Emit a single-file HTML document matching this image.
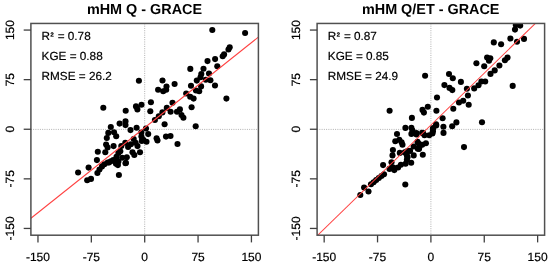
<!DOCTYPE html>
<html><head><meta charset="utf-8"><title>mHM vs GRACE</title>
<style>
html,body{margin:0;padding:0;background:#fff;}
svg{display:block;}
text{font-family:"Liberation Sans",Arial,sans-serif;fill:#000;text-rendering:geometricPrecision;stroke:#000;stroke-width:0.2px;stroke-linejoin:round;}
.ax{font-size:12px;}
.st{font-size:11.75px;}
.ti{font-size:14.4px;font-weight:bold;stroke:none;}
.box{fill:none;stroke:#505050;stroke-width:1.5;}
.tk{stroke:#404040;stroke-width:1.3;}
.red{stroke:#ff4040;stroke-width:1.05;}
.dot{stroke:#b0b0b0;stroke-width:1;stroke-dasharray:1 1.25;}
</style></head>
<body>
<svg width="550" height="267" viewBox="0 0 550 267">
<rect width="550" height="267" fill="#fff"/>
<line x1="30.9" y1="129.4" x2="258.4" y2="129.4" class="dot"/>
<line x1="144.7" y1="23.45" x2="144.7" y2="235.2" class="dot"/>
<clipPath id="c0"><rect x="30.9" y="23.45" width="227.49999999999997" height="211.75"/></clipPath>
<g fill="#000" clip-path="url(#c0)">
<circle cx="212.3" cy="30.0" r="3.05"/>
<circle cx="245.1" cy="33.0" r="3.05"/>
<circle cx="229.7" cy="47.2" r="3.05"/>
<circle cx="228.5" cy="49.5" r="3.05"/>
<circle cx="224.1" cy="54.4" r="3.05"/>
<circle cx="222.7" cy="56.2" r="3.05"/>
<circle cx="215.1" cy="59.1" r="3.05"/>
<circle cx="207.5" cy="61.1" r="3.05"/>
<circle cx="217.3" cy="66.2" r="3.05"/>
<circle cx="190.3" cy="68.9" r="3.05"/>
<circle cx="203.5" cy="68.7" r="3.05"/>
<circle cx="201.3" cy="74.0" r="3.05"/>
<circle cx="209.0" cy="73.5" r="3.05"/>
<circle cx="200.5" cy="77.3" r="3.05"/>
<circle cx="196.8" cy="80.6" r="3.05"/>
<circle cx="205.8" cy="79.8" r="3.05"/>
<circle cx="210.4" cy="80.2" r="3.05"/>
<circle cx="191.0" cy="85.7" r="3.05"/>
<circle cx="201.1" cy="86.4" r="3.05"/>
<circle cx="215.0" cy="85.5" r="3.05"/>
<circle cx="138.9" cy="80.8" r="3.05"/>
<circle cx="162.5" cy="80.5" r="3.05"/>
<circle cx="174.6" cy="84.0" r="3.05"/>
<circle cx="166.5" cy="86.6" r="3.05"/>
<circle cx="158.1" cy="89.7" r="3.05"/>
<circle cx="163.2" cy="91.2" r="3.05"/>
<circle cx="166.2" cy="89.8" r="3.05"/>
<circle cx="196.0" cy="90.5" r="3.05"/>
<circle cx="199.2" cy="91.2" r="3.05"/>
<circle cx="186.2" cy="93.5" r="3.05"/>
<circle cx="190.2" cy="96.8" r="3.05"/>
<circle cx="193.6" cy="98.6" r="3.05"/>
<circle cx="226.4" cy="98.6" r="3.05"/>
<circle cx="172.5" cy="102.8" r="3.05"/>
<circle cx="191.6" cy="107.3" r="3.05"/>
<circle cx="170.6" cy="111.7" r="3.05"/>
<circle cx="177.0" cy="111.7" r="3.05"/>
<circle cx="179.9" cy="109.4" r="3.05"/>
<circle cx="181.5" cy="115.0" r="3.05"/>
<circle cx="183.4" cy="117.8" r="3.05"/>
<circle cx="103.3" cy="107.8" r="3.05"/>
<circle cx="125.7" cy="110.7" r="3.05"/>
<circle cx="136.0" cy="106.4" r="3.05"/>
<circle cx="141.5" cy="104.8" r="3.05"/>
<circle cx="137.4" cy="109.4" r="3.05"/>
<circle cx="150.9" cy="102.2" r="3.05"/>
<circle cx="150.3" cy="111.2" r="3.05"/>
<circle cx="166.8" cy="107.9" r="3.05"/>
<circle cx="162.4" cy="112.4" r="3.05"/>
<circle cx="158.8" cy="116.3" r="3.05"/>
<circle cx="154.9" cy="120.0" r="3.05"/>
<circle cx="164.6" cy="124.2" r="3.05"/>
<circle cx="195.7" cy="126.2" r="3.05"/>
<circle cx="119.6" cy="123.6" r="3.05"/>
<circle cx="125.5" cy="121.4" r="3.05"/>
<circle cx="125.5" cy="125.1" r="3.05"/>
<circle cx="110.8" cy="127.0" r="3.05"/>
<circle cx="130.5" cy="130.1" r="3.05"/>
<circle cx="136.6" cy="127.7" r="3.05"/>
<circle cx="146.0" cy="128.5" r="3.05"/>
<circle cx="141.3" cy="132.5" r="3.05"/>
<circle cx="148.2" cy="134.1" r="3.05"/>
<circle cx="108.3" cy="132.9" r="3.05"/>
<circle cx="114.0" cy="132.3" r="3.05"/>
<circle cx="116.2" cy="136.3" r="3.05"/>
<circle cx="106.8" cy="138.0" r="3.05"/>
<circle cx="141.4" cy="136.6" r="3.05"/>
<circle cx="143.3" cy="139.8" r="3.05"/>
<circle cx="146.5" cy="141.7" r="3.05"/>
<circle cx="156.6" cy="138.2" r="3.05"/>
<circle cx="157.5" cy="140.5" r="3.05"/>
<circle cx="166.0" cy="136.6" r="3.05"/>
<circle cx="170.5" cy="136.0" r="3.05"/>
<circle cx="177.5" cy="144.0" r="3.05"/>
<circle cx="106.1" cy="144.5" r="3.05"/>
<circle cx="113.6" cy="146.1" r="3.05"/>
<circle cx="121.3" cy="146.1" r="3.05"/>
<circle cx="125.3" cy="142.8" r="3.05"/>
<circle cx="133.7" cy="139.0" r="3.05"/>
<circle cx="135.6" cy="142.8" r="3.05"/>
<circle cx="137.5" cy="146.1" r="3.05"/>
<circle cx="130.9" cy="144.2" r="3.05"/>
<circle cx="128.1" cy="147.0" r="3.05"/>
<circle cx="107.6" cy="147.5" r="3.05"/>
<circle cx="97.8" cy="151.7" r="3.05"/>
<circle cx="105.3" cy="152.2" r="3.05"/>
<circle cx="96.9" cy="160.1" r="3.05"/>
<circle cx="141.8" cy="140.9" r="3.05"/>
<circle cx="132.5" cy="152.2" r="3.05"/>
<circle cx="134.3" cy="155.0" r="3.05"/>
<circle cx="140.0" cy="152.2" r="3.05"/>
<circle cx="118.4" cy="153.1" r="3.05"/>
<circle cx="120.3" cy="151.2" r="3.05"/>
<circle cx="116.5" cy="156.9" r="3.05"/>
<circle cx="122.2" cy="157.8" r="3.05"/>
<circle cx="126.8" cy="157.3" r="3.05"/>
<circle cx="113.3" cy="160.1" r="3.05"/>
<circle cx="118.4" cy="161.5" r="3.05"/>
<circle cx="109.0" cy="162.5" r="3.05"/>
<circle cx="125.9" cy="162.9" r="3.05"/>
<circle cx="104.4" cy="164.3" r="3.05"/>
<circle cx="88.6" cy="167.6" r="3.05"/>
<circle cx="78.1" cy="172.5" r="3.05"/>
<circle cx="97.4" cy="173.0" r="3.05"/>
<circle cx="99.5" cy="169.5" r="3.05"/>
<circle cx="102.0" cy="166.4" r="3.05"/>
<circle cx="107.7" cy="162.5" r="3.05"/>
<circle cx="110.9" cy="161.3" r="3.05"/>
<circle cx="116.0" cy="163.8" r="3.05"/>
<circle cx="117.9" cy="165.1" r="3.05"/>
<circle cx="125.5" cy="163.2" r="3.05"/>
<circle cx="118.9" cy="175.0" r="3.05"/>
<circle cx="87.2" cy="180.2" r="3.05"/>
<circle cx="91.0" cy="178.9" r="3.05"/>
</g>
<line x1="10.90" y1="234.23" x2="278.50" y2="21.07" class="red" clip-path="url(#c0)"/>
<rect x="30.9" y="23.45" width="227.49999999999997" height="211.75" class="box"/>
<line x1="37.97" y1="235.2" x2="37.97" y2="242.39999999999998" class="tk"/>
<text x="37.97" y="261" class="ax" text-anchor="middle">-150</text>
<line x1="30.9" y1="228.44" x2="23.7" y2="228.44" class="tk"/>
<text transform="translate(14.30,228.44) rotate(-90)" class="ax" text-anchor="middle">-150</text>
<line x1="91.34" y1="235.2" x2="91.34" y2="242.39999999999998" class="tk"/>
<text x="91.34" y="261" class="ax" text-anchor="middle">-75</text>
<line x1="30.9" y1="178.85" x2="23.7" y2="178.85" class="tk"/>
<text transform="translate(14.30,178.85) rotate(-90)" class="ax" text-anchor="middle">-75</text>
<line x1="144.70" y1="235.2" x2="144.70" y2="242.39999999999998" class="tk"/>
<text x="144.70" y="261" class="ax" text-anchor="middle">0</text>
<line x1="30.9" y1="129.25" x2="23.7" y2="129.25" class="tk"/>
<text transform="translate(14.30,129.25) rotate(-90)" class="ax" text-anchor="middle">0</text>
<line x1="198.06" y1="235.2" x2="198.06" y2="242.39999999999998" class="tk"/>
<text x="198.06" y="261" class="ax" text-anchor="middle">75</text>
<line x1="30.9" y1="79.65" x2="23.7" y2="79.65" class="tk"/>
<text transform="translate(14.30,79.65) rotate(-90)" class="ax" text-anchor="middle">75</text>
<line x1="251.43" y1="235.2" x2="251.43" y2="242.39999999999998" class="tk"/>
<text x="251.43" y="261" class="ax" text-anchor="middle">150</text>
<line x1="30.9" y1="30.06" x2="23.7" y2="30.06" class="tk"/>
<text transform="translate(14.30,30.06) rotate(-90)" class="ax" text-anchor="middle">150</text>
<text x="144.5" y="13.9" class="ti" text-anchor="middle">mHM Q - GRACE</text>
<text x="41.6" y="40.00" class="st">R<tspan dx="0.4" dy="-1.5" style="font-size:9.4px;stroke-width:0.35px">²</tspan><tspan dx="0.8" dy="1.5"> = 0.78</tspan></text>
<text x="41.6" y="59.85" class="st">KGE = 0.88</text>
<text x="41.6" y="79.70" class="st">RMSE = 26.2</text>
<line x1="317.09999999999997" y1="129.4" x2="544.5999999999999" y2="129.4" class="dot"/>
<line x1="430.9" y1="23.45" x2="430.9" y2="235.2" class="dot"/>
<clipPath id="c286"><rect x="317.09999999999997" y="23.45" width="227.49999999999997" height="211.75"/></clipPath>
<g fill="#000" clip-path="url(#c286)">
<circle cx="515.8" cy="25.0" r="3.05"/>
<circle cx="520.2" cy="25.6" r="3.05"/>
<circle cx="515.0" cy="29.6" r="3.05"/>
<circle cx="510.4" cy="38.5" r="3.05"/>
<circle cx="517.0" cy="41.7" r="3.05"/>
<circle cx="524.0" cy="38.9" r="3.05"/>
<circle cx="493.8" cy="42.4" r="3.05"/>
<circle cx="501.1" cy="44.3" r="3.05"/>
<circle cx="425.1" cy="75.8" r="3.05"/>
<circle cx="449.0" cy="74.0" r="3.05"/>
<circle cx="452.8" cy="78.3" r="3.05"/>
<circle cx="476.4" cy="63.3" r="3.05"/>
<circle cx="484.2" cy="66.3" r="3.05"/>
<circle cx="487.1" cy="57.6" r="3.05"/>
<circle cx="490.3" cy="58.3" r="3.05"/>
<circle cx="489.0" cy="60.8" r="3.05"/>
<circle cx="507.5" cy="57.6" r="3.05"/>
<circle cx="504.9" cy="60.2" r="3.05"/>
<circle cx="499.4" cy="65.5" r="3.05"/>
<circle cx="494.7" cy="70.4" r="3.05"/>
<circle cx="490.5" cy="73.9" r="3.05"/>
<circle cx="481.4" cy="81.5" r="3.05"/>
<circle cx="485.2" cy="81.5" r="3.05"/>
<circle cx="512.7" cy="85.9" r="3.05"/>
<circle cx="478.5" cy="85.2" r="3.05"/>
<circle cx="474.2" cy="88.4" r="3.05"/>
<circle cx="460.9" cy="81.9" r="3.05"/>
<circle cx="444.4" cy="85.1" r="3.05"/>
<circle cx="449.5" cy="87.9" r="3.05"/>
<circle cx="452.3" cy="90.1" r="3.05"/>
<circle cx="466.9" cy="88.8" r="3.05"/>
<circle cx="467.9" cy="95.5" r="3.05"/>
<circle cx="437.0" cy="97.5" r="3.05"/>
<circle cx="459.0" cy="102.5" r="3.05"/>
<circle cx="463.2" cy="100.8" r="3.05"/>
<circle cx="468.7" cy="104.8" r="3.05"/>
<circle cx="427.8" cy="106.8" r="3.05"/>
<circle cx="453.3" cy="108.7" r="3.05"/>
<circle cx="422.5" cy="109.9" r="3.05"/>
<circle cx="423.9" cy="112.6" r="3.05"/>
<circle cx="436.4" cy="110.8" r="3.05"/>
<circle cx="411.9" cy="117.9" r="3.05"/>
<circle cx="442.6" cy="118.2" r="3.05"/>
<circle cx="456.4" cy="122.4" r="3.05"/>
<circle cx="452.2" cy="126.3" r="3.05"/>
<circle cx="482.0" cy="122.2" r="3.05"/>
<circle cx="436.1" cy="124.2" r="3.05"/>
<circle cx="433.2" cy="128.0" r="3.05"/>
<circle cx="443.4" cy="126.8" r="3.05"/>
<circle cx="422.1" cy="132.8" r="3.05"/>
<circle cx="432.9" cy="131.2" r="3.05"/>
<circle cx="443.5" cy="132.9" r="3.05"/>
<circle cx="416.4" cy="133.1" r="3.05"/>
<circle cx="389.6" cy="110.7" r="3.05"/>
<circle cx="405.4" cy="127.9" r="3.05"/>
<circle cx="411.4" cy="127.8" r="3.05"/>
<circle cx="412.5" cy="130.6" r="3.05"/>
<circle cx="411.4" cy="133.9" r="3.05"/>
<circle cx="416.5" cy="134.4" r="3.05"/>
<circle cx="423.1" cy="133.0" r="3.05"/>
<circle cx="424.5" cy="135.3" r="3.05"/>
<circle cx="429.2" cy="135.3" r="3.05"/>
<circle cx="432.5" cy="133.4" r="3.05"/>
<circle cx="432.9" cy="128.7" r="3.05"/>
<circle cx="436.2" cy="125.5" r="3.05"/>
<circle cx="397.0" cy="134.0" r="3.05"/>
<circle cx="399.3" cy="139.8" r="3.05"/>
<circle cx="401.6" cy="142.3" r="3.05"/>
<circle cx="402.5" cy="144.8" r="3.05"/>
<circle cx="395.3" cy="141.3" r="3.05"/>
<circle cx="417.5" cy="141.9" r="3.05"/>
<circle cx="418.9" cy="143.7" r="3.05"/>
<circle cx="425.9" cy="143.3" r="3.05"/>
<circle cx="422.2" cy="144.7" r="3.05"/>
<circle cx="413.7" cy="146.5" r="3.05"/>
<circle cx="419.3" cy="147.5" r="3.05"/>
<circle cx="464.0" cy="147.1" r="3.05"/>
<circle cx="419.0" cy="149.0" r="3.05"/>
<circle cx="410.1" cy="150.9" r="3.05"/>
<circle cx="422.8" cy="154.7" r="3.05"/>
<circle cx="413.7" cy="155.4" r="3.05"/>
<circle cx="406.9" cy="155.4" r="3.05"/>
<circle cx="406.9" cy="159.8" r="3.05"/>
<circle cx="392.9" cy="150.0" r="3.05"/>
<circle cx="392.5" cy="155.4" r="3.05"/>
<circle cx="399.8" cy="152.9" r="3.05"/>
<circle cx="404.8" cy="152.4" r="3.05"/>
<circle cx="407.5" cy="151.1" r="3.05"/>
<circle cx="407.5" cy="157.2" r="3.05"/>
<circle cx="391.5" cy="162.3" r="3.05"/>
<circle cx="383.1" cy="165.1" r="3.05"/>
<circle cx="400.9" cy="164.7" r="3.05"/>
<circle cx="411.2" cy="162.8" r="3.05"/>
<circle cx="405.6" cy="163.7" r="3.05"/>
<circle cx="393.4" cy="167.5" r="3.05"/>
<circle cx="398.1" cy="167.5" r="3.05"/>
<circle cx="417.8" cy="148.7" r="3.05"/>
<circle cx="371.0" cy="184.3" r="3.05"/>
<circle cx="373.6" cy="182.2" r="3.05"/>
<circle cx="376.2" cy="180.1" r="3.05"/>
<circle cx="378.8" cy="178.0" r="3.05"/>
<circle cx="381.4" cy="176.0" r="3.05"/>
<circle cx="384.0" cy="174.2" r="3.05"/>
<circle cx="394.3" cy="170.1" r="3.05"/>
<circle cx="391.5" cy="167.8" r="3.05"/>
<circle cx="389.5" cy="168.9" r="3.05"/>
<circle cx="364.1" cy="187.6" r="3.05"/>
<circle cx="368.5" cy="191.5" r="3.05"/>
<circle cx="360.3" cy="195.0" r="3.05"/>
<circle cx="405.3" cy="184.5" r="3.05"/>
</g>
<line x1="297.70" y1="254.66" x2="555.40" y2="3.94" class="red" clip-path="url(#c286)"/>
<rect x="317.09999999999997" y="23.45" width="227.49999999999997" height="211.75" class="box"/>
<line x1="324.17" y1="235.2" x2="324.17" y2="242.39999999999998" class="tk"/>
<text x="324.17" y="261" class="ax" text-anchor="middle">-150</text>
<line x1="317.09999999999997" y1="228.44" x2="309.9" y2="228.44" class="tk"/>
<text transform="translate(299.70,228.44) rotate(-90)" class="ax" text-anchor="middle">-150</text>
<line x1="377.54" y1="235.2" x2="377.54" y2="242.39999999999998" class="tk"/>
<text x="377.54" y="261" class="ax" text-anchor="middle">-75</text>
<line x1="317.09999999999997" y1="178.85" x2="309.9" y2="178.85" class="tk"/>
<text transform="translate(299.70,178.85) rotate(-90)" class="ax" text-anchor="middle">-75</text>
<line x1="430.90" y1="235.2" x2="430.90" y2="242.39999999999998" class="tk"/>
<text x="430.90" y="261" class="ax" text-anchor="middle">0</text>
<line x1="317.09999999999997" y1="129.25" x2="309.9" y2="129.25" class="tk"/>
<text transform="translate(299.70,129.25) rotate(-90)" class="ax" text-anchor="middle">0</text>
<line x1="484.26" y1="235.2" x2="484.26" y2="242.39999999999998" class="tk"/>
<text x="484.26" y="261" class="ax" text-anchor="middle">75</text>
<line x1="317.09999999999997" y1="79.65" x2="309.9" y2="79.65" class="tk"/>
<text transform="translate(299.70,79.65) rotate(-90)" class="ax" text-anchor="middle">75</text>
<line x1="537.62" y1="235.2" x2="537.62" y2="242.39999999999998" class="tk"/>
<text x="537.62" y="261" class="ax" text-anchor="middle">150</text>
<line x1="317.09999999999997" y1="30.06" x2="309.9" y2="30.06" class="tk"/>
<text transform="translate(299.70,30.06) rotate(-90)" class="ax" text-anchor="middle">150</text>
<text x="430.7" y="13.9" class="ti" text-anchor="middle">mHM Q/ET - GRACE</text>
<text x="327.8" y="40.00" class="st">R<tspan dx="0.4" dy="-1.5" style="font-size:9.4px;stroke-width:0.35px">²</tspan><tspan dx="0.8" dy="1.5"> = 0.87</tspan></text>
<text x="327.8" y="59.85" class="st">KGE = 0.85</text>
<text x="327.8" y="79.70" class="st">RMSE = 24.9</text>
</svg>
</body></html>
